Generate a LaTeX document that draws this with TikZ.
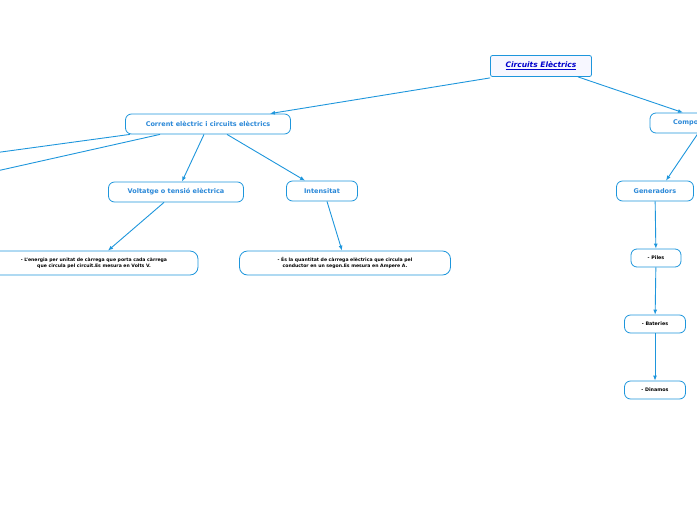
\documentclass[tikz,border=0pt]{standalone}
\usepackage{fontspec}
\setmainfont{DejaVu Sans}
\usetikzlibrary{arrows.meta}
\definecolor{ln}{HTML}{1E96DC}
\definecolor{tx}{HTML}{2A88D8}
\tikzset{
 box/.style={draw=ln,line width=0.8pt,rounded corners=6pt,fill=white,font=\fontsize{6.5}{7}\selectfont\bfseries,text=tx,inner sep=0pt,minimum height=20pt,align=center},
 sub/.style={box,font=\fontsize{4.6}{5.6}\selectfont\bfseries,text=black,rounded corners=8pt,minimum height=24pt},
 leaf/.style={box,font=\fontsize{4.8}{5.6}\selectfont\bfseries,text=black,minimum height=18pt},
 con/.style={draw=ln,line width=0.9pt,-{Latex[length=5pt,width=4pt]}},
 plain/.style={draw=ln,line width=0.9pt}
}
\begin{document}
\begin{tikzpicture}[x=1pt,y=-1pt]
\useasboundingbox (0,0) rectangle (697,520);
\clip (0,0) rectangle (697,520);
\node[box,rounded corners=2pt,minimum width=101pt,minimum height=21pt,fill=blue!3,text=blue!80!black,font=\fontsize{7.5}{8}\selectfont\bfseries\itshape] (root) at (541,66) {\underline{Circuits Elèctrics}};
\node[box,minimum width=165pt] (cor) at (208,124) {Corrent elèctric i circuits elèctrics};
\node[box,minimum width=92pt] (comp) at (696,123) {Components};
\node[box,minimum width=135pt] (volt) at (176,192) {Voltatge o tensió elèctrica};
\node[box,minimum width=71pt] (int) at (322,191) {Intensitat};
\node[sub,minimum width=208pt] (vt) at (94,263) {- L'energia per unitat de càrrega que porta cada càrrega\\que circula pel circuit.Es mesura en Volts V.};
\node[sub,minimum width=211pt] (it) at (345,263) {- És la quantitat de càrrega elèctrica que circula pel\\conductor en un segon.Es mesura en Ampere A.};
\node[box,minimum width=77pt] (gen) at (655,191) {Generadors};
\node[leaf,minimum width=50pt] (pil) at (656,258) {- Piles};
\node[leaf,minimum width=61pt] (bat) at (655,324) {- Bateries};
\node[leaf,minimum width=61pt] (din) at (655,390) {- Dinamos};
\coordinate (l1) at (-10,153.5);
\coordinate (l2) at (-10,172.5);
\draw[con] ([yshift=-1pt]root.south west) -- ([xshift=62pt]cor.north);
\draw[con] ([xshift=37pt]root.south) -- ([xshift=-13pt]comp.north);
\draw[plain] ([xshift=-78pt]cor.south) -- (l1);
\draw[plain] ([xshift=-48pt]cor.south) -- (l2);
\draw[con] ([xshift=-4pt]cor.south) -- ([xshift=6pt]volt.north);
\draw[con] ([xshift=19pt]cor.south) -- ([xshift=-17pt]int.north);
\draw[con] ([xshift=-12pt]volt.south) -- ([xshift=14pt]vt.north);
\draw[con] ([xshift=5pt]int.south) -- ([xshift=-3pt]it.north);
\draw[con] ([xshift=2pt]comp.south) -- ([xshift=11pt]gen.north);
\draw[con] (gen) -- (pil);
\draw[con] (pil) -- (bat);
\draw[con] (bat) -- (din);
\end{tikzpicture}
\end{document}
